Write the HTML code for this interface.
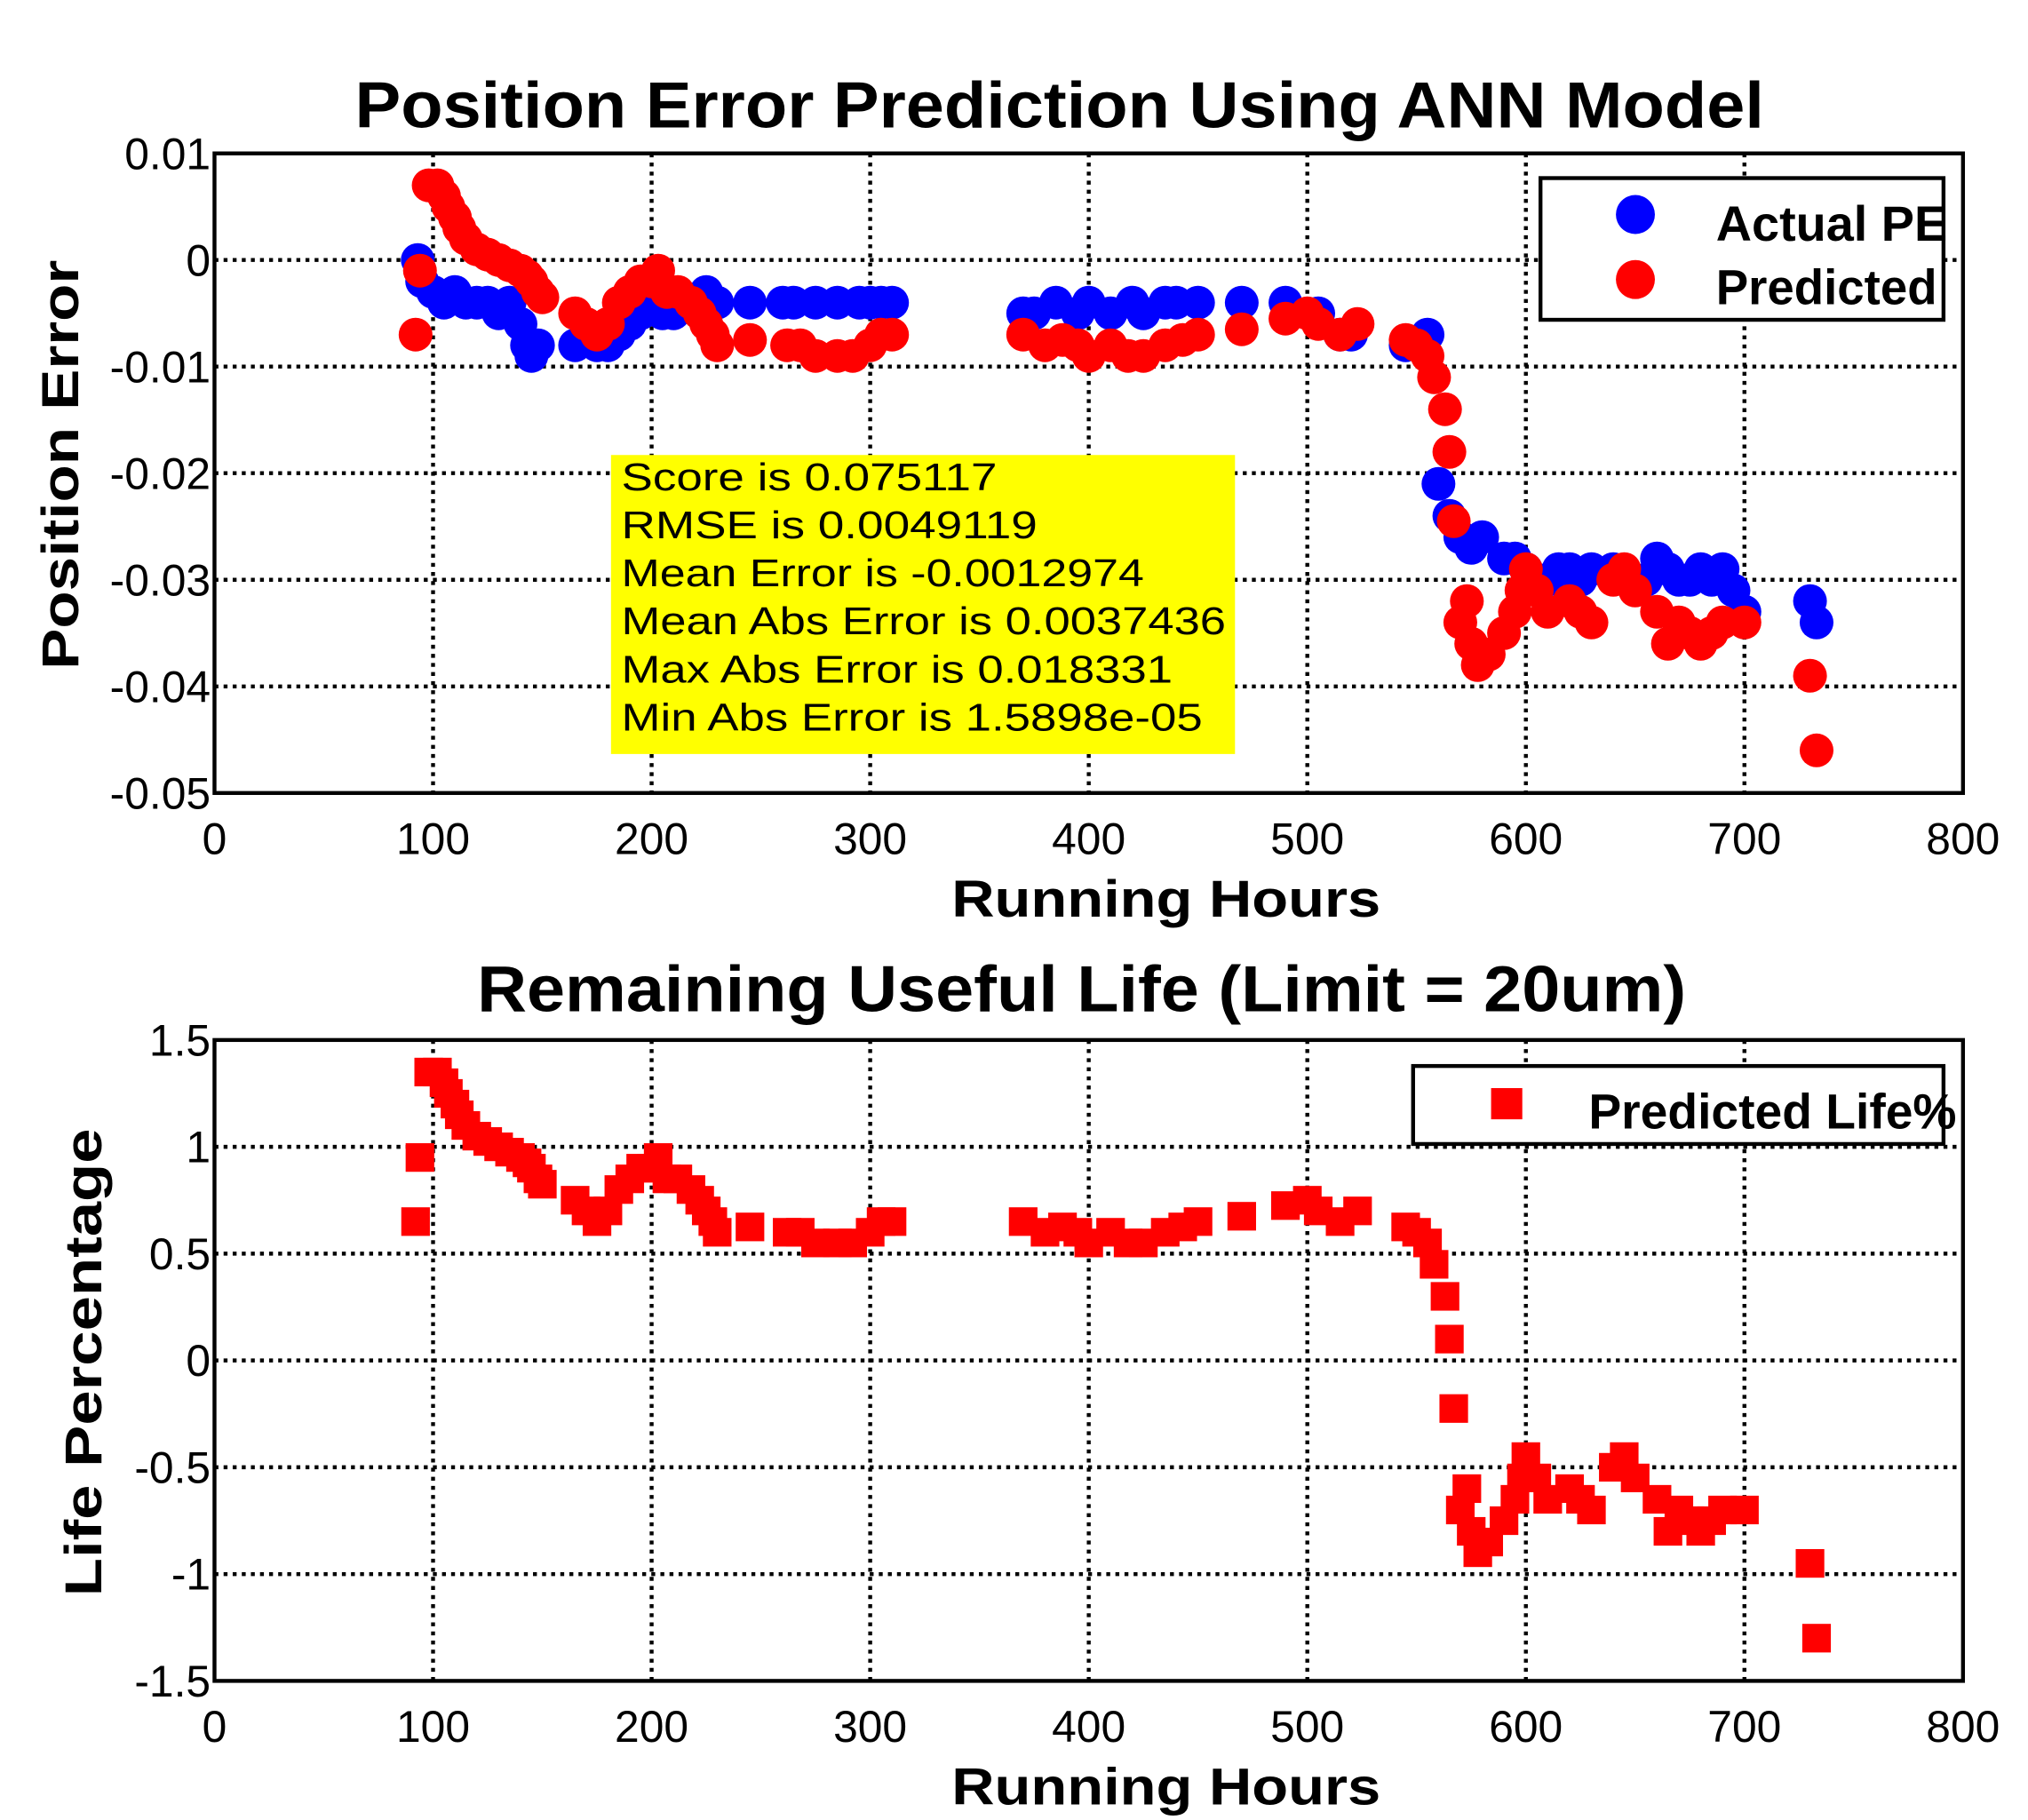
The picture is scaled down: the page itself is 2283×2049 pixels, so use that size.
<!DOCTYPE html>
<html><head><meta charset="utf-8"><style>
html,body{margin:0;padding:0;background:#fff;}
svg{display:block;}
text{font-family:"Liberation Sans",sans-serif;fill:#000;}
</style></head><body>
<svg id="s" width="2283" height="2049" viewBox="0 0 1560 1400" preserveAspectRatio="none" xmlns="http://www.w3.org/2000/svg">
<g id="grid" stroke="#000" stroke-width="3" stroke-dasharray="3,4"></g>
<g id="pts"></g>
<rect x="165" y="118" width="1345" height="492" fill="none" stroke="#000" stroke-width="3"/>
<rect x="165" y="800" width="1345" height="493" fill="none" stroke="#000" stroke-width="3"/>
<text x="273" y="98" font-size="50" font-weight="bold" textLength="1084" lengthAdjust="spacingAndGlyphs">Position Error Prediction Using ANN Model</text>
<text x="367" y="778" font-size="50" font-weight="bold" textLength="930" lengthAdjust="spacingAndGlyphs">Remaining Useful Life (Limit = 20um)</text>
<text x="732" y="705" font-size="40" font-weight="bold" textLength="330" lengthAdjust="spacingAndGlyphs">Running Hours</text>
<text x="732" y="1388" font-size="40" font-weight="bold" textLength="330" lengthAdjust="spacingAndGlyphs">Running Hours</text>
<text transform="translate(60,515) rotate(-90)" font-size="40" font-weight="bold" textLength="315" lengthAdjust="spacingAndGlyphs">Position Error</text>
<text transform="translate(78,1228) rotate(-90)" font-size="40" font-weight="bold" textLength="360" lengthAdjust="spacingAndGlyphs">Life Percentage</text>
<g id="ticks" font-size="34"></g>
<rect x="470" y="350" width="480" height="230" fill="#ffff00"/>
<g font-size="30">
<text x="478" y="377" textLength="289" lengthAdjust="spacingAndGlyphs">Score is 0.075117</text>
<text x="478" y="414" textLength="320" lengthAdjust="spacingAndGlyphs">RMSE is 0.0049119</text>
<text x="478" y="451" textLength="402" lengthAdjust="spacingAndGlyphs">Mean Error is -0.0012974</text>
<text x="478" y="488" textLength="465" lengthAdjust="spacingAndGlyphs">Mean Abs Error is 0.0037436</text>
<text x="478" y="525" textLength="424" lengthAdjust="spacingAndGlyphs">Max Abs Error is 0.018331</text>
<text x="478" y="562" textLength="447" lengthAdjust="spacingAndGlyphs">Min Abs Error is 1.5898e-05</text>
</g>
<rect x="1185" y="137" width="310" height="109" fill="#fff" stroke="#000" stroke-width="3"/>
<circle cx="1258" cy="165" r="15" fill="#0000ff"/>
<circle cx="1258" cy="215" r="15" fill="#ff0000"/>
<text x="1320" y="185" font-size="38" font-weight="bold" textLength="178" lengthAdjust="spacingAndGlyphs">Actual PE</text>
<text x="1320" y="234" font-size="38" font-weight="bold" textLength="170" lengthAdjust="spacingAndGlyphs">Predicted</text>
<rect x="1087" y="820" width="408" height="60" fill="#fff" stroke="#000" stroke-width="3"/>
<rect x="1147" y="837" width="24" height="24" fill="#ff0000"/>
<text x="1222" y="868" font-size="38" font-weight="bold" textLength="283" lengthAdjust="spacingAndGlyphs">Predicted Life%</text>
</svg>
<script>
var NS="http://www.w3.org/2000/svg";
function el(p,t,a,txt){var e=document.createElementNS(NS,t);for(var k in a)e.setAttribute(k,a[k]);if(txt!==undefined)e.textContent=txt;p.appendChild(e);return e;}
var g=document.getElementById('grid'),tk=document.getElementById('ticks'),pts=document.getElementById('pts');
function X(h){return 165+h*1.68125;}
function Y1(v){return 200-v*8200;}
function Y2(v){return 1046.5-v*164.33;}
for(var h=100;h<800;h+=100){el(g,'line',{x1:X(h),y1:118,x2:X(h),y2:610});el(g,'line',{x1:X(h),y1:800,x2:X(h),y2:1293});}
var yt1=[0.01,0,-0.01,-0.02,-0.03,-0.04,-0.05],lb1=["0.01","0","-0.01","-0.02","-0.03","-0.04","-0.05"];
for(var i=0;i<yt1.length;i++){var y=Y1(yt1[i]);if(i>0&&i<6)el(g,'line',{x1:165,y1:y,x2:1510,y2:y});el(tk,'text',{x:162,y:y+12,'text-anchor':'end'},lb1[i]);}
var yt2=[1.5,1,0.5,0,-0.5,-1,-1.5],lb2=["1.5","1","0.5","0","-0.5","-1","-1.5"];
for(var i=0;i<yt2.length;i++){var y=Y2(yt2[i]);if(i>0&&i<6)el(g,'line',{x1:165,y1:y,x2:1510,y2:y});el(tk,'text',{x:162,y:y+12,'text-anchor':'end'},lb2[i]);}
for(var h=0;h<=800;h+=100){el(tk,'text',{x:X(h),y:657,'text-anchor':'middle'},""+h);el(tk,'text',{x:X(h),y:1340,'text-anchor':'middle'},""+h);}
var A=[[93,0],[95,-0.002],[100,-0.003],[105,-0.004],[110,-0.003],[115,-0.004],[120,-0.004],[125,-0.004],[130,-0.005],[135,-0.004],[140,-0.006],[143,-0.008],[145,-0.009],[148,-0.008],[165,-0.008],[175,-0.008],[180,-0.008],[185,-0.007],[190,-0.006],[195,-0.005],[200,-0.004],[205,-0.005],[210,-0.005],[215,-0.004],[220,-0.004],[225,-0.003],[230,-0.004],[245,-0.004],[260,-0.004],[265,-0.004],[275,-0.004],[285,-0.004],[295,-0.004],[300,-0.004],[305,-0.004],[310,-0.004],[370,-0.005],[375,-0.005],[385,-0.004],[395,-0.005],[400,-0.004],[410,-0.005],[420,-0.004],[425,-0.005],[435,-0.004],[440,-0.004],[450,-0.004],[470,-0.004],[490,-0.004],[505,-0.005],[515,-0.007],[520,-0.007],[545,-0.008],[555,-0.007],[560,-0.021],[565,-0.024],[570,-0.026],[575,-0.027],[580,-0.026],[590,-0.028],[595,-0.028],[600,-0.029],[605,-0.03],[610,-0.03],[615,-0.029],[620,-0.029],[625,-0.03],[630,-0.029],[640,-0.029],[650,-0.03],[655,-0.03],[660,-0.028],[665,-0.029],[670,-0.03],[675,-0.03],[680,-0.029],[685,-0.03],[690,-0.029],[695,-0.031],[700,-0.033],[730,-0.032],[733,-0.034]];
var P=[[92,-0.007],[94,-0.001],[98,0.007],[102,0.007],[105,0.006],[107,0.005],[110,0.004],[112,0.003],[115,0.002],[120,0.001],[125,0.0005],[130,0],[135,-0.0005],[140,-0.001],[143,-0.0015],[145,-0.002],[148,-0.003],[150,-0.0035],[165,-0.005],[170,-0.006],[175,-0.007],[180,-0.006],[185,-0.004],[190,-0.003],[195,-0.002],[200,-0.002],[203,-0.001],[207,-0.003],[212,-0.003],[218,-0.004],[222,-0.005],[225,-0.006],[228,-0.007],[230,-0.008],[245,-0.0075],[262,-0.008],[268,-0.008],[275,-0.009],[285,-0.009],[292,-0.009],[300,-0.008],[305,-0.007],[310,-0.007],[370,-0.007],[380,-0.008],[388,-0.0075],[395,-0.008],[400,-0.009],[410,-0.008],[418,-0.009],[425,-0.009],[435,-0.008],[443,-0.0075],[450,-0.007],[470,-0.0065],[490,-0.0055],[500,-0.005],[505,-0.006],[515,-0.007],[523,-0.006],[545,-0.0075],[550,-0.008],[555,-0.009],[558,-0.011],[563,-0.014],[565,-0.018],[567,-0.0245],[570,-0.034],[573,-0.032],[575,-0.036],[578,-0.038],[583,-0.037],[590,-0.035],[595,-0.033],[598,-0.031],[600,-0.029],[605,-0.031],[610,-0.033],[620,-0.032],[625,-0.033],[630,-0.034],[640,-0.03],[645,-0.029],[650,-0.031],[660,-0.033],[665,-0.036],[670,-0.034],[675,-0.035],[680,-0.036],[685,-0.035],[690,-0.034],[700,-0.034],[730,-0.039],[733,-0.046]];
A.forEach(function(p){el(pts,'circle',{cx:X(p[0]),cy:Y1(p[1]),r:13,fill:'#0000ff'});});
P.forEach(function(p){el(pts,'circle',{cx:X(p[0]),cy:Y1(p[1]),r:13,fill:'#ff0000'});});
P.forEach(function(p){var l=1+p[1]*50;el(pts,'rect',{x:X(p[0])-11,y:Y2(l)-11,width:22,height:22,fill:'#ff0000'});});
</script>
</body></html>
